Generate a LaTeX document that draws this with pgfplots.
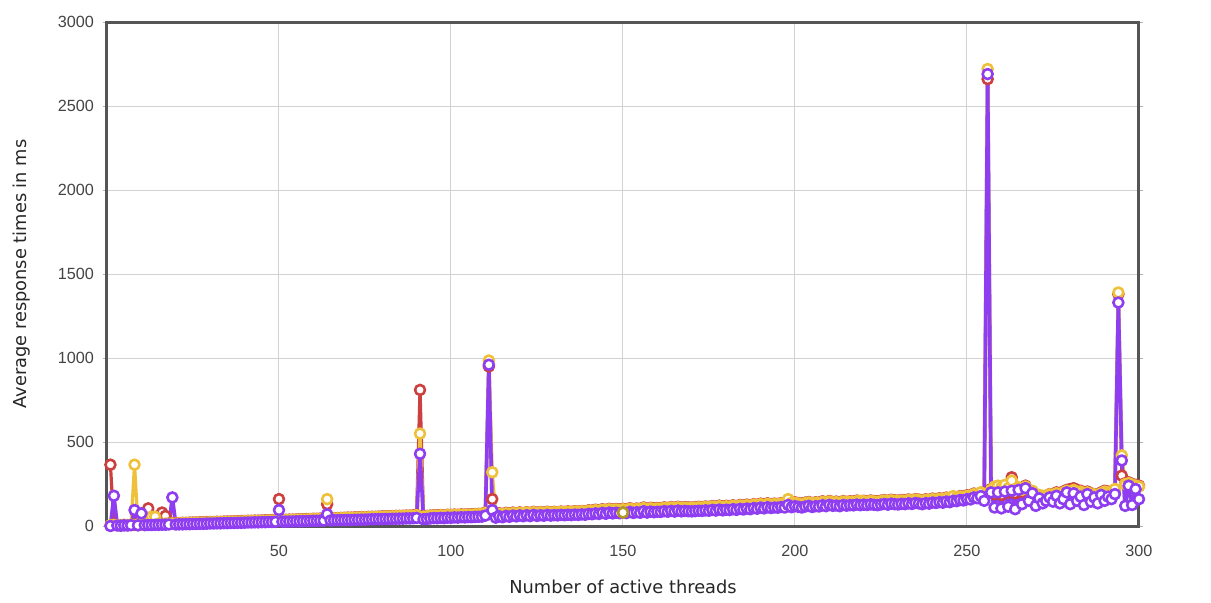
\documentclass[border=0pt]{standalone}
\usepackage{fontspec}
\setmainfont{Liberation Sans}
\newfontfamily\labelfont{DejaVu Sans}
\usepackage{pgfplots}
\usepackage{pgfplotstable}
\pgfplotsset{compat=1.18}

\definecolor{cred}{HTML}{CC4040}
\definecolor{cyel}{HTML}{EFC03A}
\definecolor{cpur}{HTML}{8E3EF0}
\definecolor{colive}{HTML}{B09A22}
\definecolor{frame}{HTML}{555555}
\definecolor{gridc}{HTML}{D2D2D2}
\definecolor{ticktxt}{HTML}{444444}

% x = active threads, r / yl / p = the three runs (ms)
\pgfplotstableread{
x r yl p
1 365 5 0
2 8 6 180
3 5 6 3
4 4 5 2
5 6 7 4
6 5 6 3
7 7 8 5
8 8 365 95
9 7 9 4
10 9 8 75
11 10 10 5
12 105 11 6
13 12 55 6
14 13 55 7
15 60 14 7
16 80 13 8
17 60 14 8
18 15 14 9
19 16 15 170
20 16 15 9
21 18 16 10
22 19 17 10
23 19 17 11
24 20 18 11
25 21 19 12
26 21 19 12
27 22 20 13
28 22 20 13
29 23 21 14
30 24 22 15
31 24 22 15
32 25 23 16
33 25 23 16
34 26 24 17
35 27 24 17
36 27 25 18
37 28 26 18
38 28 26 19
39 29 27 19
40 30 28 20
41 31 29 21
42 31 29 21
43 32 30 22
44 32 30 22
45 33 31 23
46 34 31 23
47 34 32 24
48 35 33 24
49 36 34 25
50 160 35 95
51 37 35 26
52 37 35 26
53 38 36 27
54 38 36 27
55 39 37 28
56 40 38 28
57 40 38 29
58 41 39 29
59 42 40 30
60 43 41 31
61 43 41 31
62 44 42 32
63 45 43 32
64 130 160 70
65 46 44 33
66 47 45 34
67 47 45 34
68 48 46 35
69 49 47 35
70 50 48 36
71 50 48 36
72 51 49 37
73 52 50 37
74 53 51 38
75 53 51 38
76 54 52 39
77 55 53 40
78 55 53 40
79 56 54 41
80 57 55 41
81 58 56 42
82 58 56 42
83 59 57 43
84 60 58 43
85 60 58 44
86 61 59 44
87 62 60 45
88 62 60 45
89 63 61 46
90 66 64 48
91 810 550 430
92 58 56 40
93 60 58 42
94 62 60 45
95 64 62 47
96 63 61 46
97 65 63 48
98 64 62 47
99 67 65 50
100 66 64 49
101 68 66 51
102 67 65 50
103 69 67 52
104 68 66 51
105 70 68 53
106 69 67 52
107 71 69 54
108 72 70 55
109 73 71 56
110 80 78 62
111 950 985 960
112 160 320 95
113 70 68 50
114 76 73 58
115 72 70 52
116 78 75 60
117 74 72 55
118 80 77 62
119 76 74 57
120 81 79 63
121 77 75 58
122 82 80 64
123 78 76 59
124 84 82 66
125 80 78 60
126 83 81 64
127 80 78 61
128 85 83 66
129 82 80 62
130 84 82 65
131 83 81 63
132 86 84 66
133 84 82 64
134 87 85 67
135 85 83 65
136 88 86 68
137 86 84 66
138 89 87 69
139 88 86 67
140 93 90 72
141 92 89 70
142 97 94 75
143 94 91 72
144 100 97 78
145 96 93 73
146 102 99 80
147 98 95 75
148 101 98 79
149 99 96 76
150 102 99 80
151 100 97 77
152 106 103 84
153 101 98 78
154 104 101 82
155 102 99 79
156 110 107 88
157 103 100 80
158 108 105 86
159 105 102 82
160 107 104 85
161 107 104 84
162 111 108 89
163 108 105 85
164 112 109 90
165 109 106 86
166 114 111 92
167 110 107 87
168 112 109 90
169 111 108 88
170 110 107 87
171 112 109 89
172 114 111 91
173 113 110 90
174 116 113 93
175 114 111 91
176 119 116 96
177 115 112 92
178 121 118 98
179 116 113 93
180 120 117 97
181 118 115 95
182 123 120 100
183 119 116 96
184 125 122 102
185 121 118 98
186 127 124 104
187 123 120 100
188 130 127 107
189 126 123 103
190 133 130 110
191 128 125 105
192 135 132 112
193 130 127 107
194 133 130 110
195 132 129 109
196 136 133 113
197 133 135 110
198 140 160 125
199 135 138 112
200 141 138 118
201 137 134 114
202 134 131 110
203 139 136 116
204 143 140 120
205 137 134 113
206 141 138 118
207 139 136 116
208 147 144 124
209 141 138 118
210 149 146 126
211 143 140 120
212 145 142 122
213 141 138 118
214 148 145 125
215 144 141 121
216 147 144 124
217 146 143 123
218 151 148 128
219 147 150 124
220 150 147 127
221 148 145 125
222 152 149 129
223 149 146 126
224 147 144 124
225 151 148 128
226 154 151 131
227 150 147 127
228 156 153 133
229 153 150 130
230 151 148 128
231 155 152 132
232 153 150 130
233 158 155 135
234 154 151 131
235 160 157 137
236 157 154 134
237 153 150 130
238 159 156 136
239 156 153 133
240 163 160 140
241 160 157 137
242 165 162 142
243 162 159 139
244 169 166 146
245 165 162 142
246 173 178 150
247 171 168 148
248 178 175 155
249 175 172 152
250 183 180 160
251 181 178 158
252 193 190 170
253 188 185 165
254 198 200 178
255 175 185 150
256 2660 2720 2690
257 220 215 200
258 190 235 110
259 215 240 200
260 185 230 105
261 220 245 205
262 200 225 115
263 290 270 210
264 195 220 100
265 225 230 215
266 205 215 130
267 240 235 225
268 210 215 150
269 205 210 195
270 185 190 120
271 180 185 165
272 175 180 135
273 180 182 150
274 190 188 170
275 185 180 145
276 200 195 180
277 190 185 135
278 205 200 160
279 215 210 200
280 220 205 130
281 225 215 195
282 215 205 150
283 210 205 175
284 200 195 125
285 205 200 190
286 195 190 145
287 190 188 170
288 185 182 135
289 200 195 185
290 210 205 150
291 205 200 175
292 200 198 160
293 215 220 190
294 1380 1390 1330
295 300 420 390
296 255 250 120
297 260 255 240
298 250 245 125
299 245 240 220
300 240 235 160
}\runs

\begin{document}
\begin{tikzpicture}
\path[use as bounding box] (-53.5pt,-38pt) rectangle (552pt,263pt);
\begin{axis}[
  at={(0,0)}, anchor=south west,
  scale only axis, width=516pt, height=252pt,
  xmin=0, xmax=300, ymin=0, ymax=3000,
  xtick={50,100,...,300}, ytick={0,500,...,3000},
  grid=major, major grid style={gridc, line width=0.5pt},
  axis line style={frame, line width=1.5pt},
  xtick style={draw=none},
  ytick style={draw=gray!60, line width=0.5pt},
  major tick length=2pt, tick align=outside,
  tick label style={font=\fontsize{8.1}{9.5}\selectfont, text=ticktxt},
  /pgf/number format/assume math mode=true,
  /pgf/number format/1000 sep={},
  xticklabel style={yshift=-4pt},
  yticklabel style={xshift=-1pt},
  every axis x label/.style={at={(axis description cs:0.5,0)}, anchor=center, yshift=-30.5pt},
  every axis y label/.style={at={([xshift=-42.5pt]axis description cs:0,0.5)}, anchor=center, rotate=90},
  label style={font=\labelfont\fontsize{8.9}{10.5}\selectfont, text=black!85},
  xlabel={Number of active threads},
  ylabel={Average response times in ms},
  every axis plot/.append style={line join=round},
  clip=false,
]
\addplot[no markers, black, opacity=0.13, line width=2.2pt, yshift=-1.4pt] table[x=x, y=p] {\runs};
\addplot[cred, line width=1.6pt, mark=*, mark size=2.5pt,
  mark options={fill=white, draw=cred, line width=1.3pt}] table[x=x, y=r] {\runs};
\addplot[cyel, line width=1.6pt, mark=*, mark size=2.5pt,
  mark options={fill=white, draw=cyel, line width=1.3pt}] table[x=x, y=yl] {\runs};
\addplot[cpur, line width=1.8pt, mark=*, mark size=2.5pt,
  mark options={fill=white, draw=cpur, line width=1.3pt}] table[x=x, y=p] {\runs};
\addplot[only marks, mark=*, mark size=2.5pt,
  mark options={fill=white, draw=colive, line width=1.3pt}] coordinates {(150,80)};
\end{axis}
\end{tikzpicture}
\end{document}
